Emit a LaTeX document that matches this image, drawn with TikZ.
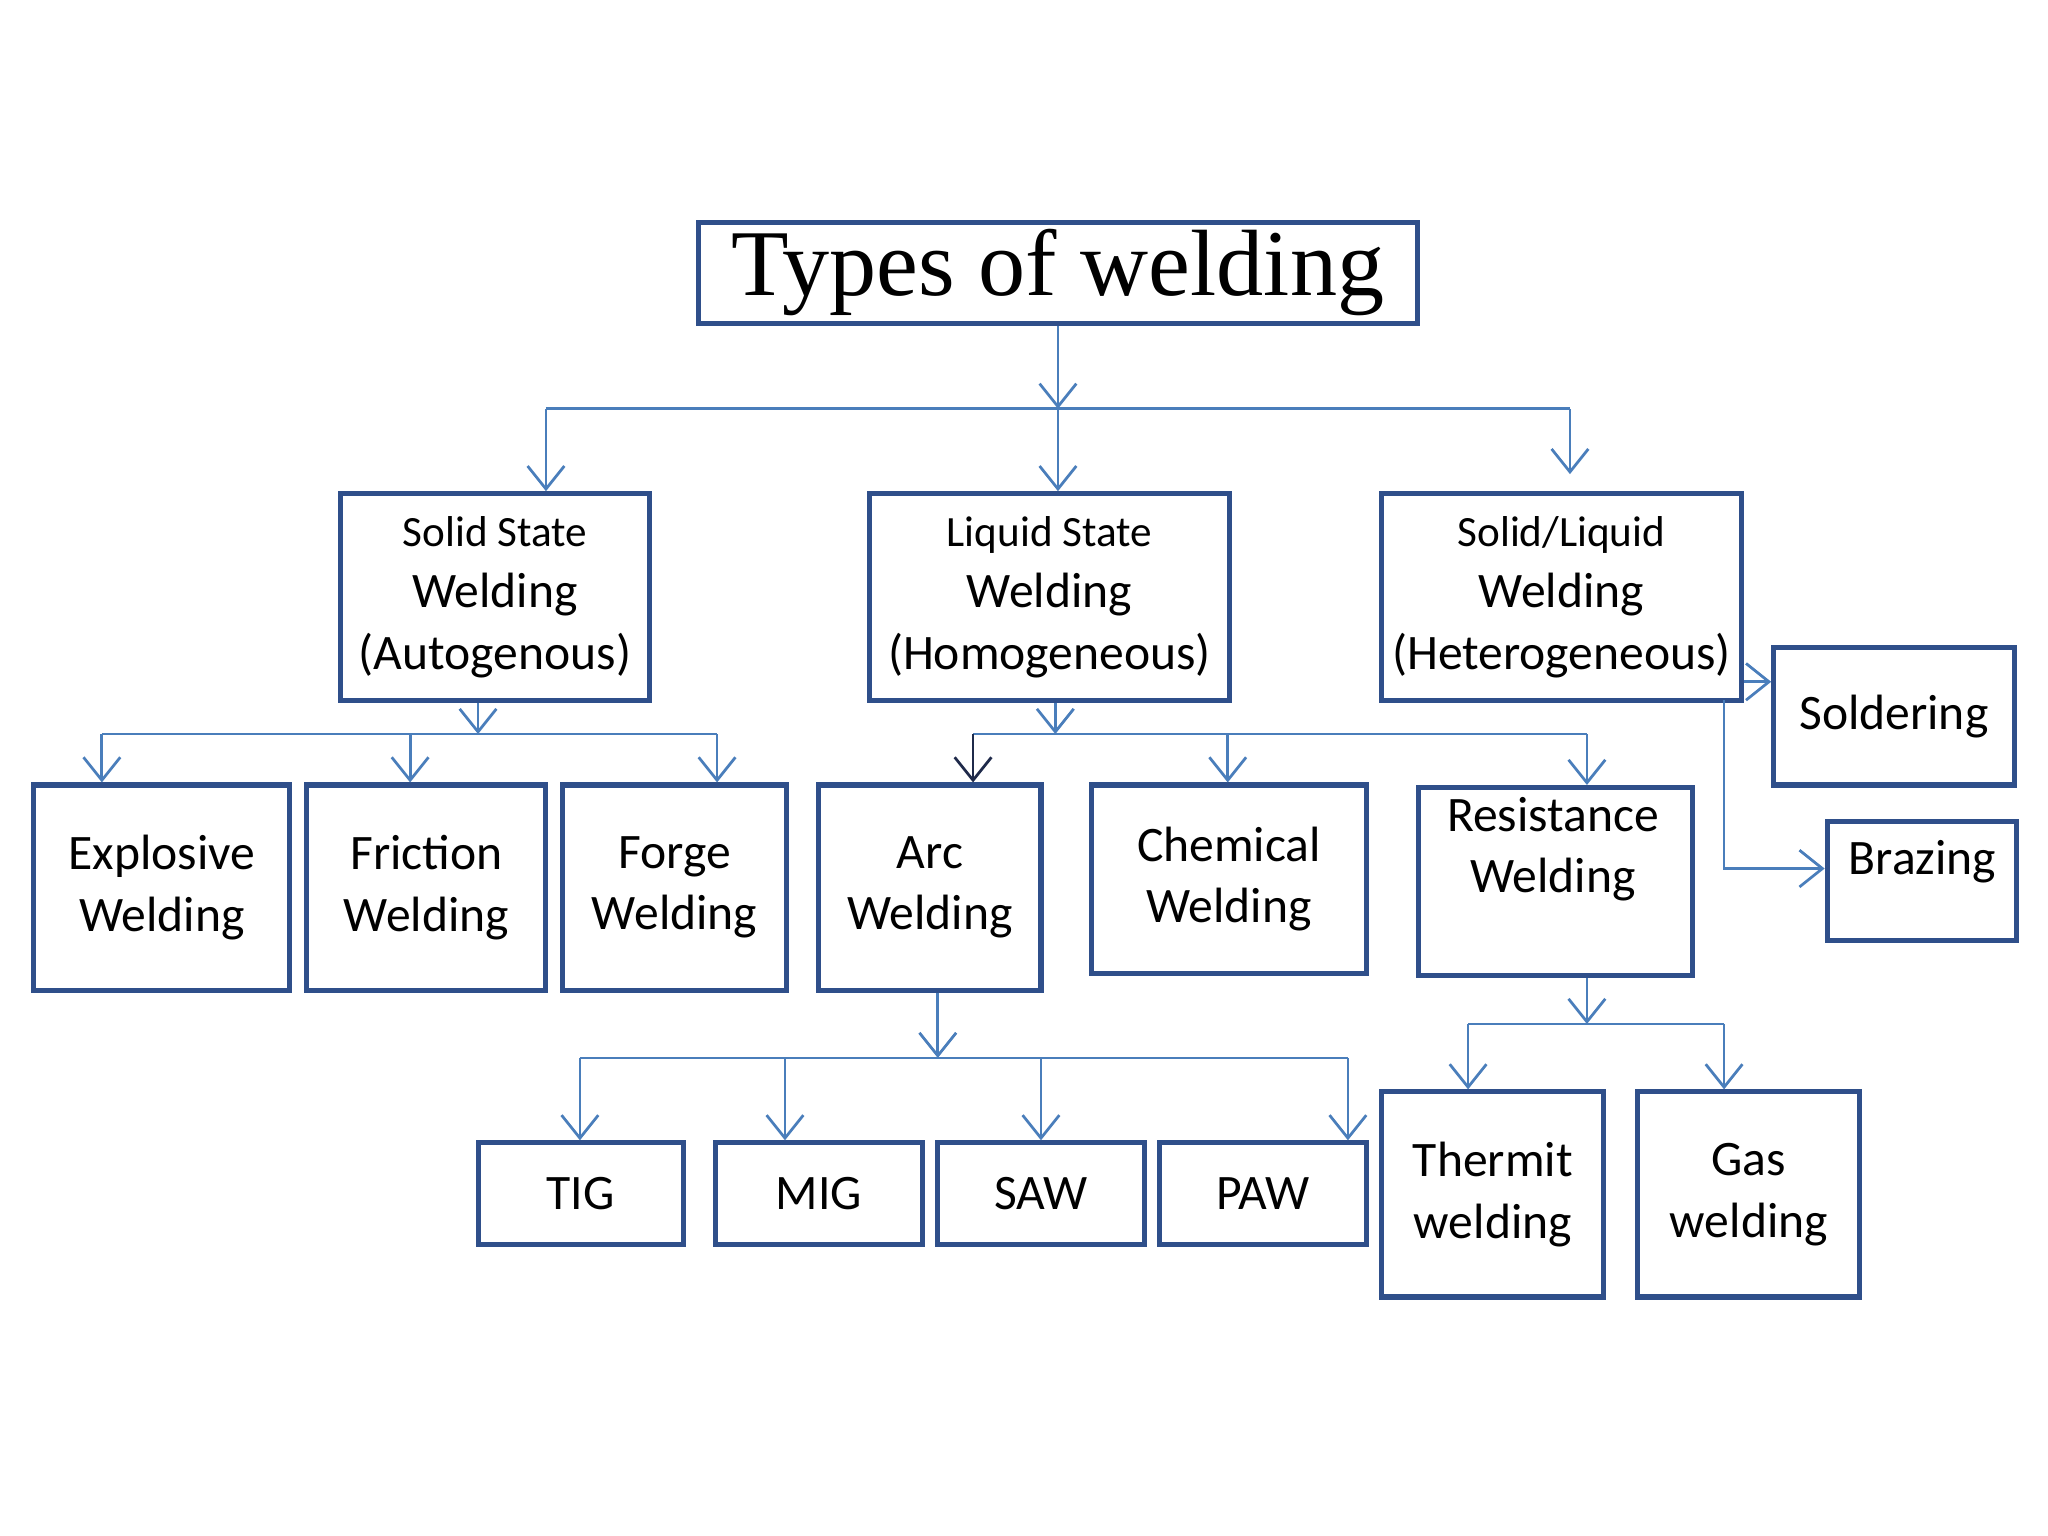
\documentclass[tikz,border=0pt]{standalone}
\usepackage{fontspec}
\setmainfont{Carlito}
\newfontfamily\ttl{Liberation Serif}
\usetikzlibrary{arrows.meta}
\newcommand\bx[6]{\node[box,minimum width={(#4-#2)*0.01cm},minimum height={(#5-#3)*0.01cm}] (#1) at ({(#2+#4)/2},{(#3+#5)/2}) {#6};}
\begin{document}
\begin{tikzpicture}[x=0.01cm,y=-0.01cm,
 box/.style={draw=boxc,line width=1.1pt,inner sep=0pt,align=center,font=\fontsize{10.8}{13.4}\selectfont},
 mid/.style={font=\fontsize{9.4}{12.5}\selectfont},
 ln/.style={draw=linec,line width=0.6pt},
 ar/.style={ln,-{Straight Barb[length=5pt,width=8pt]}}]
\definecolor{boxc}{HTML}{2F4F8A}
\definecolor{linec}{HTML}{4A7EBB}
\definecolor{darkc}{HTML}{1F2A4A}
\useasboundingbox[fill=white] (0,0) rectangle (1568,1176);
\bx{t}{535}{170}{1085}{248}{\ttl\fontsize{20.5}{24}\selectfont Types of welding}
\bx{ss}{261}{378}{497}{536}{\fontsize{9.4}{12.5}\selectfont Solid State\\Welding\\(Autogenous)}
\bx{ls}{666}{378}{941}{536}{\fontsize{9.4}{12.5}\selectfont Liquid State\\Welding\\(Homogeneous)}
\bx{sl}{1058}{378}{1333}{536}{\fontsize{9.4}{12.5}\selectfont Solid/Liquid\\Welding\\(Heterogeneous)}
\bx{sold}{1358}{496}{1542}{601}{Soldering}
\node[box,minimum width=145*0.01cm,minimum height=91*0.01cm,anchor=north west] (braz) at (1397,627) {};
\node[font=\fontsize{10.8}{13.4}\selectfont] at (1472,660) {Brazing};
\bx{exp}{26}{601}{222}{758}{Explosive\\Welding}
\bx{fri}{235}{601}{418}{758}{Friction\\Welding}
\bx{for}{431}{601}{602}{758}{Forge\\Welding}
\bx{arc}{627}{601}{797}{758}{Arc\\Welding}
\bx{che}{836}{601}{1046}{745}{Chemical\\Welding}
\node[box,minimum width=210*0.01cm,minimum height=144*0.01cm,anchor=north west] (res) at (1084,601) {};
\node[align=center,font=\fontsize{10.8}{13.4}\selectfont] at (1189,650) {Resistance\\Welding};
\bx{tig}{366}{875}{523}{953}{TIG}
\bx{mig}{548}{875}{706}{953}{MIG}
\bx{saw}{718}{875}{876}{953}{SAW}
\bx{paw}{888}{875}{1046}{953}{PAW}
\bx{the}{1058}{836}{1228}{993}{Thermit\\welding}
\bx{gas}{1254}{836}{1424}{993}{Gas\\welding}
% title level
\coordinate (b0) at (810,313);
\draw[ar] (t.south) -- (b0);
\draw[ln] (418,313) -- (1202,313);
\draw[ar] (418,313) -- (ss.north -| 418,0);
\draw[ar] (b0) -- (ls.north -| 810,0);
\coordinate (sle) at (1202,363);
\draw[ar] (1202,313) -- (sle);
% solid state
\coordinate (b1) at (366,562);
\draw[ar] (ss.south -| 366,0) -- (b1);
\draw[ln] (78,562) -- (549,562);
\draw[ar] (78,562) -- (exp.north -| 78,0);
\draw[ar] (314,562) -- (fri.north -| 314,0);
\draw[ar] (549,562) -- (for.north -| 549,0);
% liquid state
\coordinate (b2) at (808,562);
\draw[ar] (ls.south -| 808,0) -- (b2);
\draw[ln] (745,562) -- (1215,562);
\draw[ar,draw=darkc] (745,562) -- (arc.north -| 745,0);
\draw[ar] (940,562) -- (che.north -| 940,0);
\draw[ar] (1215,562) -- (res.north -| 1215,0);
% solid/liquid
\draw[ar] (sl.east |- 0,522) -- (sold.west |- 0,522);
\draw[ar] (1320,536) -- (1320,665) -- (braz.west |- 0,665);
% arc
\coordinate (b3) at (718,810);
\draw[ar] (arc.south -| 718,0) -- (b3);
\draw[ln] (444,810) -- (1032,810);
\draw[ar] (444,810) -- (tig.north -| 444,0);
\draw[ar] (601,810) -- (mig.north -| 601,0);
\draw[ar] (797,810) -- (saw.north -| 797,0);
\draw[ar] (1032,810) -- (paw.north -| 1032,0);
% resistance
\coordinate (b4) at (1215,784);
\draw[ar] (res.south -| 1215,0) -- (b4);
\draw[ln] (1124,784) -- (1320,784);
\draw[ar] (1124,784) -- (the.north -| 1124,0);
\draw[ar] (1320,784) -- (gas.north -| 1320,0);
\end{tikzpicture}
\end{document}
